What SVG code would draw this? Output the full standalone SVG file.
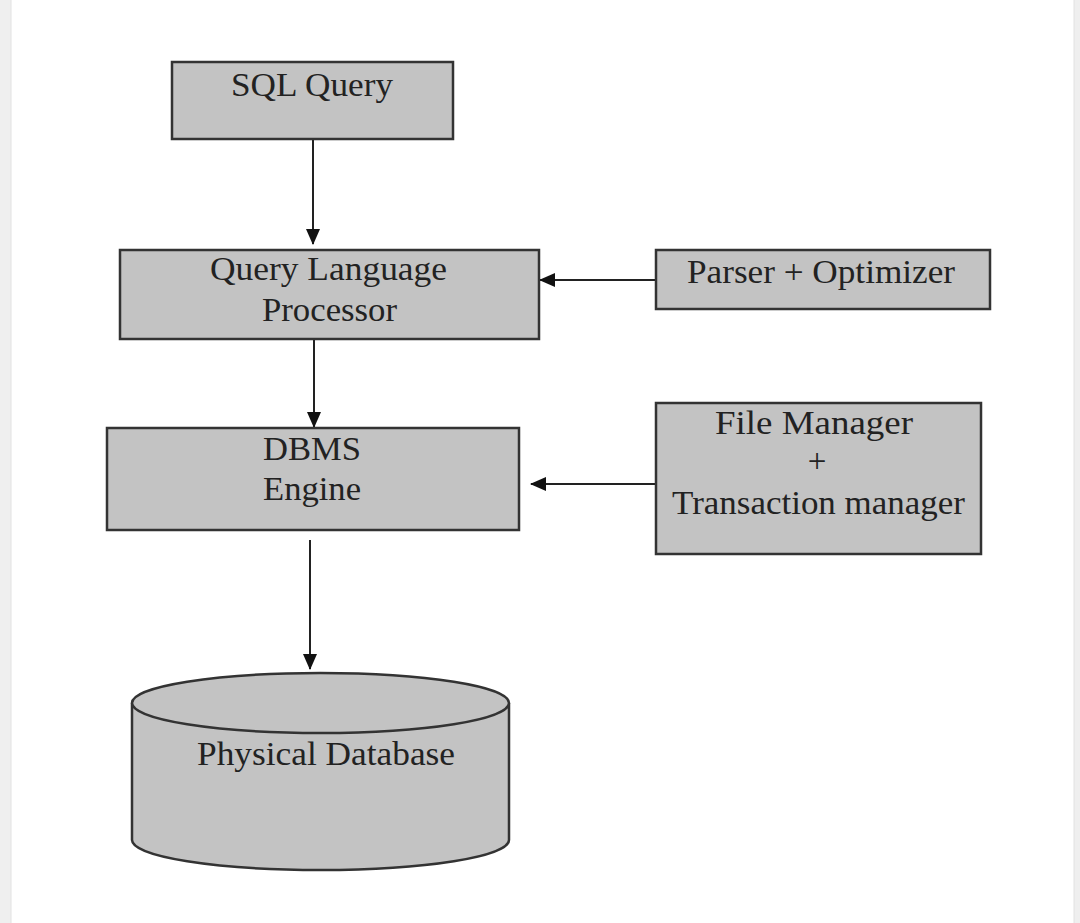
<svg xmlns="http://www.w3.org/2000/svg" width="1080" height="923" viewBox="0 0 1080 923">
<style>
.box{fill:#c3c3c3;stroke:#333;stroke-width:2.5}
.lbl{font-family:"Liberation Serif","DejaVu Serif",serif;font-size:33px;fill:#222}
.edge{stroke:#222;stroke-width:2;fill:none;marker-end:url(#ah)}
</style>
<defs>
<marker id="ah" markerWidth="16" markerHeight="14" refX="15" refY="7" orient="auto" markerUnits="userSpaceOnUse">
<path d="M0,0 L16,7 L0,14 Z" fill="#111"/>
</marker>
</defs>
<rect x="0" y="0" width="1080" height="923" fill="#fff"/>
<rect x="0" y="0" width="11" height="923" fill="#efefef"/>
<rect x="1074" y="0" width="6" height="923" fill="#efefef"/>
<line x1="11" y1="0" x2="11" y2="923" stroke="#e2e2e2" stroke-width="1"/>
<line x1="1074" y1="0" x2="1074" y2="923" stroke="#e2e2e2" stroke-width="1"/>

<g id="connectors">
<line class="edge" x1="313" y1="140" x2="313" y2="244"/>
<line class="edge" x1="314" y1="339" x2="314" y2="427"/>
<line class="edge" x1="656" y1="280" x2="540" y2="280"/>
<line class="edge" x1="656" y1="484" x2="531" y2="484"/>
<line class="edge" x1="310" y1="540" x2="310" y2="669"/>
</g>

<g id="sql-query">
<rect class="box" x="172" y="62" width="281" height="77"/>
<text class="lbl" x="312" y="96" text-anchor="middle" textLength="162" lengthAdjust="spacingAndGlyphs">SQL Query</text>
</g>

<g id="query-language-processor">
<rect class="box" x="120" y="250" width="419" height="89"/>
<text class="lbl" x="328.5" y="280" text-anchor="middle" textLength="237" lengthAdjust="spacingAndGlyphs">Query Language</text>
<text class="lbl" x="329.5" y="321" text-anchor="middle" textLength="135" lengthAdjust="spacingAndGlyphs">Processor</text>
</g>

<g id="parser-optimizer">
<rect class="box" x="656" y="250" width="334" height="59"/>
<text class="lbl" x="821" y="283" text-anchor="middle" textLength="268" lengthAdjust="spacingAndGlyphs">Parser + Optimizer</text>
</g>

<g id="dbms-engine">
<rect class="box" x="107" y="428" width="412" height="102"/>
<text class="lbl" x="312" y="460" text-anchor="middle" textLength="98" lengthAdjust="spacingAndGlyphs">DBMS</text>
<text class="lbl" x="312" y="500" text-anchor="middle" textLength="98" lengthAdjust="spacingAndGlyphs">Engine</text>
</g>

<g id="file-transaction-manager">
<rect class="box" x="656" y="403" width="325" height="151"/>
<text class="lbl" x="814" y="434" text-anchor="middle" textLength="198" lengthAdjust="spacingAndGlyphs">File Manager</text>
<text class="lbl" x="817" y="472" text-anchor="middle">+</text>
<text class="lbl" x="818.5" y="514" text-anchor="middle" textLength="293" lengthAdjust="spacingAndGlyphs">Transaction manager</text>
</g>

<g id="physical-database">
<path class="box" d="M132,703 L132,840 A188.5,30 0 0 0 509,840 L509,703"/>
<ellipse class="box" cx="320.5" cy="703" rx="188.5" ry="30"/>
<text class="lbl" x="326" y="765" text-anchor="middle" textLength="258" lengthAdjust="spacingAndGlyphs">Physical Database</text>
</g>
</svg>
